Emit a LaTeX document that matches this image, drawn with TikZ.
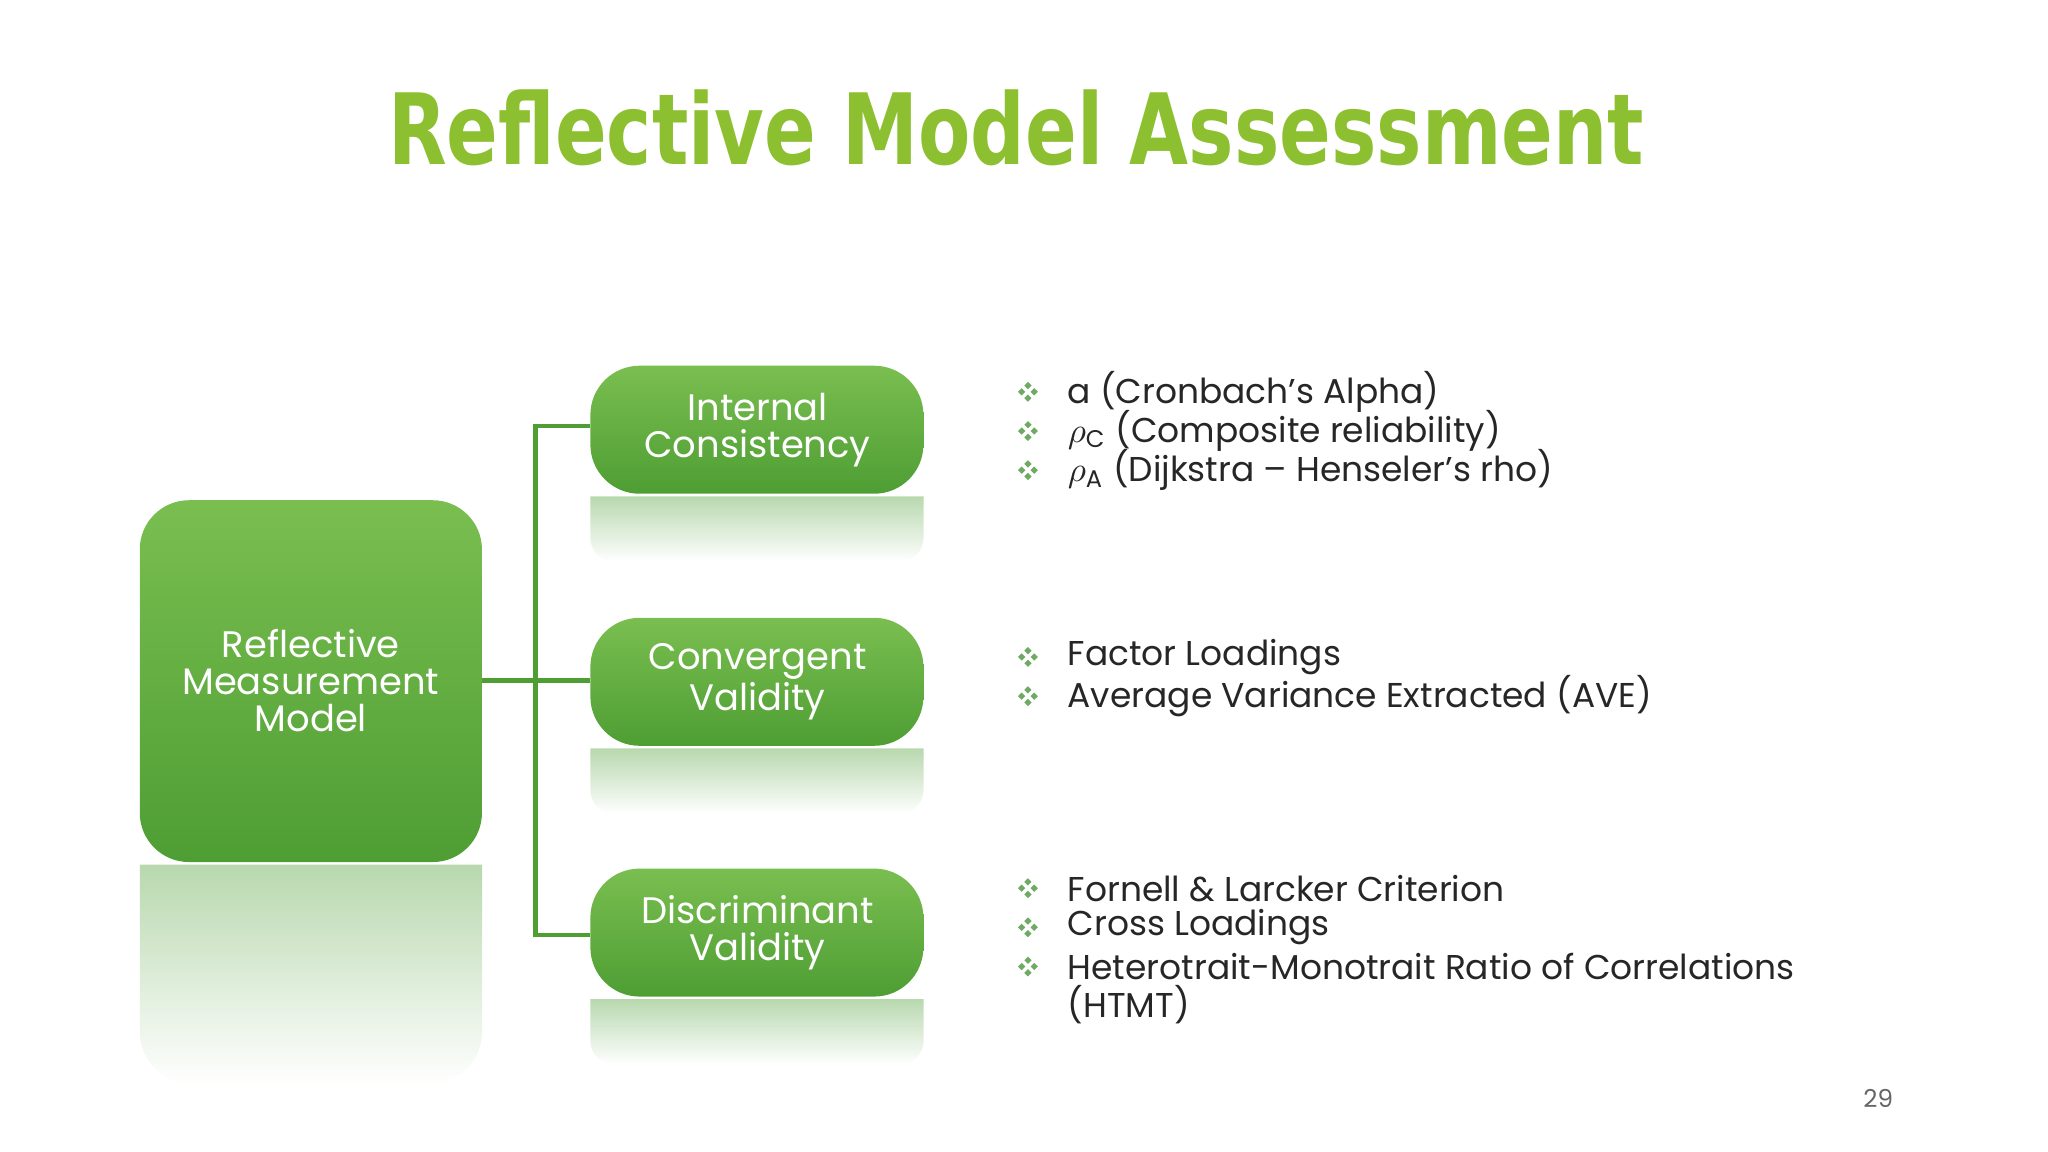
\documentclass[tikz,border=0pt]{standalone}
\usepackage{fontspec}
\setmainfont{Poppins}
\newfontfamily\titlefont{DejaVu Sans}
\usetikzlibrary{fadings}
\definecolor{ttl}{RGB}{141,192,48}
\definecolor{gtop}{RGB}{122,190,80}
\definecolor{gbot}{RGB}{78,158,52}
\definecolor{bul}{RGB}{110,170,100}
\begin{document}
\begin{tikzpicture}[x=0.013061cm,y=-0.013061cm,
 box/.style={rounded corners=14pt,top color=gtop,bottom color=gbot,draw=none},
 refl/.style={fill=gbot!40,path fading=south,draw=none},
 lbl/.style={text=white,align=center,font=\fontsize{10.5}{10.5}\selectfont},
 itm/.style={anchor=west,font=\fontsize{9.8}{11}\selectfont,text=black!85},
 con/.style={draw=gbot,line width=1.3pt},
 bl/.pic={\foreach \a in {0,90,180,270}{\fill[bul,rotate=\a] (0,2) -- (2.8,4.8) -- (0,7.6) -- (-2.8,4.8) -- cycle;}}]
\useasboundingbox (0,0) rectangle (1568,882);
\node[font=\titlefont\bfseries\fontsize{28}{30}\selectfont,text=ttl,xscale=0.775,transform shape] (t) at (778,98) {Reflective Model Assessment};
% reflections
\fill[refl] (107,662) -- (107,790) arc[start angle=180,end angle=90,radius=40] -- (329,830) arc[start angle=90,end angle=0,radius=40] -- (369,662) -- cycle;
\foreach \y in {380,573,765}{\fill[refl] (452,\y) -- (452,\y+32) arc[start angle=180,end angle=90,radius=18] -- (689,\y+50) arc[start angle=90,end angle=0,radius=18] -- (707,\y) -- cycle;}
% boxes
\path[box] (107,383) rectangle (369,660);
\node[lbl] (rm) at (238,521) {Reflective\\Measurement\\Model};
\coordinate (rmr) at (369,521);
\path[box] (452,280) rectangle (707,378);
\node[lbl] (ic) at (580,329) {Internal\\Consistency};
\path[box] (452,473) rectangle (707,571);
\node[lbl] (cv) at (580,522) {Convergent\\Validity};
\path[box] (452,665) rectangle (707,763);
\node[lbl] (dv) at (580,714) {Discriminant\\Validity};
\coordinate (icl) at (452,326);\coordinate (cvl) at (452,521);\coordinate (dvl) at (452,716);
\coordinate (j) at (410,521);
\draw[con] (rmr) -- (cvl);
\draw[con] (icl) -- (icl-|j) -- (dvl-|j) -- (dvl);
% items
\foreach \y/\t in {300/{a (Cronbach’s Alpha)},330/{$\rho_{\mathrm{C}}$ (Composite reliability)},360/{$\rho_{\mathrm{A}}$ (Dijkstra – Henseler’s rho)},503/{Factor Loadings},533/{Average Variance Extracted (AVE)},680/{Fornell \& Larcker Criterion},710/{Cross Loadings},740/{Heterotrait-Monotrait Ratio of Correlations}}{
 \pic at (787,\y) {bl};
 \node[itm] at (808,\y) {\t};}
\node[itm] (h) at (808,769) {(HTMT)};
\node[font=\fontsize{7}{8}\selectfont,text=black!60] (pn) at (1438,841) {29};
\end{tikzpicture}
\end{document}
